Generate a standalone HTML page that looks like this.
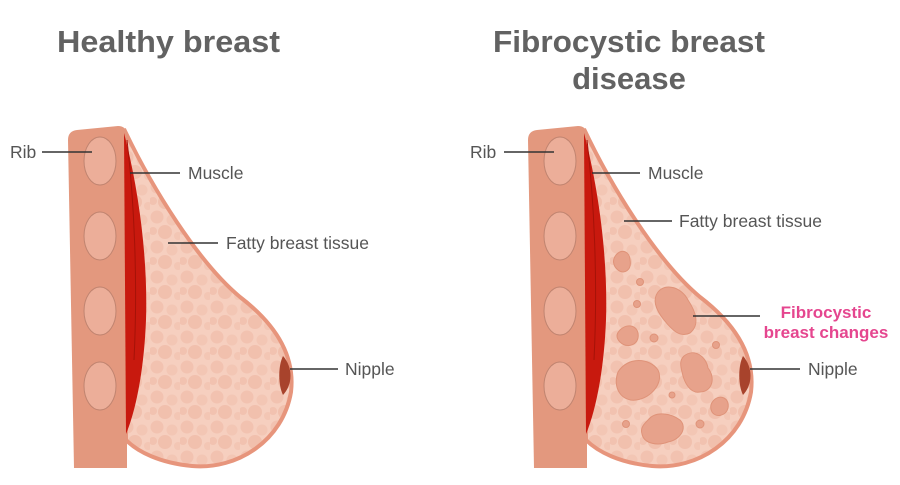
<!DOCTYPE html>
<html><head><meta charset="utf-8"><style>
html,body{margin:0;padding:0;background:#fff;}
svg{display:block}
text{font-family:"Liberation Sans",sans-serif;}
</style></head><body>
<svg width="900" height="485" viewBox="0 0 900 485" xmlns="http://www.w3.org/2000/svg">
<defs>
<pattern id="cells" width="30" height="30" patternUnits="userSpaceOnUse">
<rect width="30" height="30" fill="#f6cfbf"/>
<circle cx="7" cy="7" r="6.5" fill="#f2c2b0"/>
<circle cx="22" cy="10" r="5.5" fill="#f3c6b4"/>
<circle cx="15" cy="22" r="7" fill="#f1c0ad"/>
<circle cx="28" cy="26" r="4" fill="#f3c6b4"/>
<circle cx="3" cy="21" r="4" fill="#f2c2b0"/>
</pattern>
<g id="fig">
<path d="M124,129 C152,188 198,262 240,297 C278,326 295,358 291,392 C283,440 238,470 192,466 C160,463 138,452 126,440 Z" fill="url(#cells)" stroke="#e7957c" stroke-width="4"/>
<path d="M68,140 Q68,131 77,130 L118,126 Q126,126 127,134 L127,468 L74,468 Z" fill="#e3987e"/>
<ellipse cx="100" cy="161" rx="16" ry="24" fill="#ecae99" stroke="#c08470" stroke-width="1"/>
<ellipse cx="100" cy="236" rx="16" ry="24" fill="#ecae99" stroke="#c08470" stroke-width="1"/>
<ellipse cx="100" cy="311" rx="16" ry="24" fill="#ecae99" stroke="#c08470" stroke-width="1"/>
<ellipse cx="100" cy="386" rx="16" ry="24" fill="#ecae99" stroke="#c08470" stroke-width="1"/>
<path d="M124,133 C139,190 148,260 146,320 C144,370 136,410 126,434 Z" fill="#c8190e"/>
<path d="M127,140 C134,200 138,280 134,360" stroke="#a51208" stroke-width="1" fill="none"/>
<path d="M283,356 C292,366 294,383 283,395 C278,385 278,366 283,356 Z" fill="#a8432c"/>
</g>
</defs>
<text x="57" y="52" font-size="31" font-weight="bold" fill="#626262" textLength="223" lengthAdjust="spacingAndGlyphs">Healthy breast</text>
<text x="493" y="52" font-size="31" font-weight="bold" fill="#626262" textLength="272" lengthAdjust="spacingAndGlyphs">Fibrocystic breast</text>
<text x="629" y="89" font-size="31" font-weight="bold" fill="#626262" text-anchor="middle">disease</text>

<use href="#fig"/>
<use href="#fig" transform="translate(460,0)"/>

<g fill="#e7a28b" stroke="#df9379" stroke-width="1">
<path d="M616,255 C622,248 630,252 630,260 C632,270 624,275 618,270 C613,266 612,260 616,255Z"/>
<path d="M658,292 C666,282 682,288 688,300 C696,312 700,325 690,333 C680,338 672,330 664,320 C656,310 652,300 658,292Z"/>
<path d="M620,330 C628,322 640,326 638,338 C636,346 626,348 620,342 C616,338 616,334 620,330Z"/>
<path d="M618,372 C628,356 650,358 658,370 C664,382 652,398 636,400 C622,402 612,388 618,372Z"/>
<path d="M684,356 C694,348 706,356 708,368 C716,378 712,392 700,392 C690,394 684,382 682,372 C680,364 680,360 684,356Z"/>
<path d="M648,420 C656,410 672,414 680,420 C688,428 680,440 668,442 C658,446 644,444 642,434 C640,428 644,424 648,420Z"/>
<path d="M714,400 C720,394 730,398 728,408 C726,416 716,418 712,412 C710,408 710,404 714,400Z"/>
<circle cx="640" cy="282" r="3.5"/><circle cx="637" cy="304" r="3.5"/><circle cx="654" cy="338" r="4"/>
<circle cx="716" cy="345" r="3.5"/><circle cx="626" cy="424" r="3.5"/><circle cx="700" cy="424" r="4"/>
<circle cx="672" cy="395" r="3"/>
</g>

<g stroke="#333" stroke-width="1.5">
<line x1="42" y1="152" x2="92" y2="152"/>
<line x1="130" y1="173" x2="180" y2="173"/>
<line x1="168" y1="243" x2="218" y2="243"/>
<line x1="290" y1="369" x2="338" y2="369"/>
<line x1="504" y1="152" x2="554" y2="152"/>
<line x1="592" y1="173" x2="640" y2="173"/>
<line x1="624" y1="221" x2="672" y2="221"/>
<line x1="693" y1="316" x2="760" y2="316"/>
<line x1="750" y1="369" x2="800" y2="369"/>
</g>
<g font-size="17.5" fill="#555">
<text x="10" y="158">Rib</text>
<text x="188" y="179">Muscle</text>
<text x="226" y="249">Fatty breast tissue</text>
<text x="345" y="375">Nipple</text>
<text x="470" y="158">Rib</text>
<text x="648" y="179">Muscle</text>
<text x="679" y="227">Fatty breast tissue</text>
<text x="808" y="375">Nipple</text>
</g>
<g font-size="17" font-weight="bold" fill="#e5468f" text-anchor="middle">
<text x="826" y="318">Fibrocystic</text>
<text x="826" y="338">breast changes</text>
</g>
</svg>
</body></html>
